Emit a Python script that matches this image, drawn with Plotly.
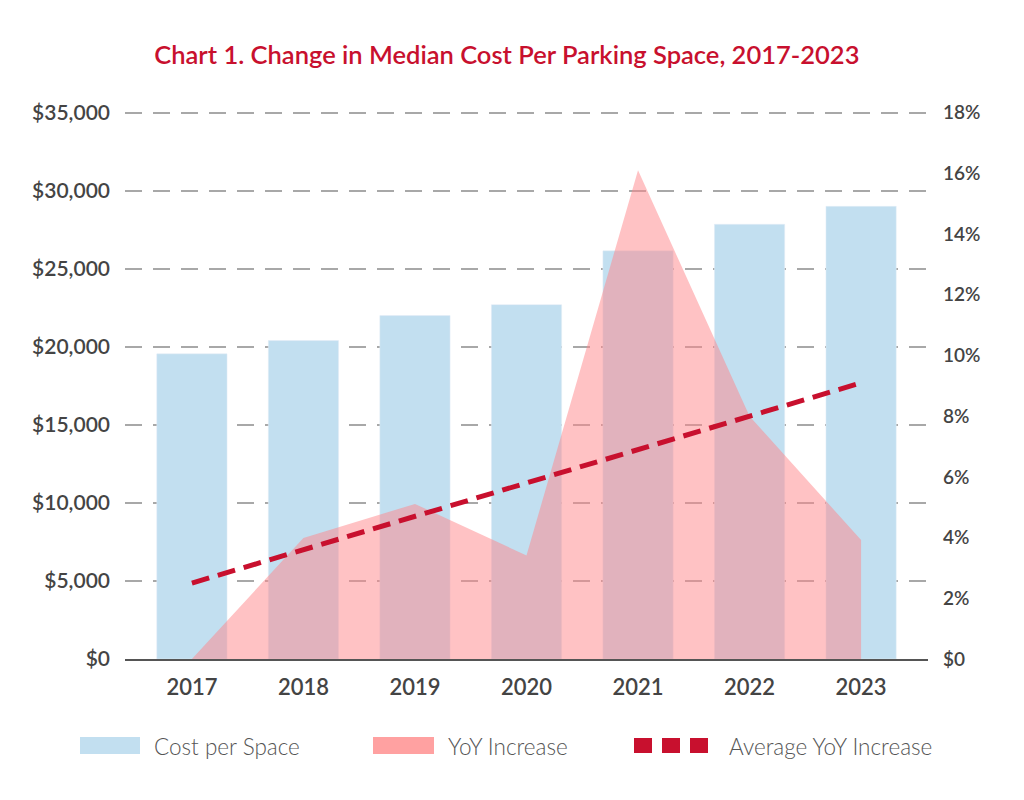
import plotly.graph_objects as go

years = ["2017", "2018", "2019", "2020", "2021", "2022", "2023"]
cost_per_space = [19550, 20400, 22000, 22700, 26150, 27850, 29000]
yoy_increase = [0.0, 3.99, 5.11, 3.41, 16.1, 8.0, 3.92]
avg_yoy_trend = [2.5, 3.6, 4.7, 5.8, 6.9, 8.0, 9.1]

left_ticks = [0, 5000, 10000, 15000, 20000, 25000, 30000, 35000]
left_ticktext = [f"${v:,}" for v in left_ticks]
right_ticks = [0, 2, 4, 6, 8, 10, 12, 14, 16, 18]
right_ticktext = ["$0"] + [f"{v}%" for v in right_ticks[1:]]

BLUE = "#c2dff0"
PINK_FILL = "rgba(255,133,137,0.5)"
PINK_KEY = "#ffa1a1"
RED = "#c8102e"
TEXT = "#444444"
FONT = "Lato, Open Sans, sans-serif"

W, H = 1024, 800
L, R, B = 125, 96, 141
Y0_PIX, YTOP_PIX = 659, 113          # pixel rows of $0 and $35,000
LEFT_MAX = 35300
scale = (Y0_PIX - YTOP_PIX) / 35000  # px per dollar
T = int(round(Y0_PIX - LEFT_MAX * scale))
PW, PH = W - L - R, H - T - B
RIGHT_MAX = 18 * LEFT_MAX / 35000


def px(x):
    return (x - L) / PW


def py(y):
    return (H - B - y) / PH


fig = go.Figure()
fig.add_trace(go.Bar(x=years, y=cost_per_space, marker_color=BLUE, width=0.63,
                     name="Cost per Space", yaxis="y"))
fig.add_trace(go.Scatter(x=years, y=yoy_increase, mode="lines", fill="tozeroy",
                         fillcolor=PINK_FILL, line=dict(width=0, color=PINK_FILL),
                         name="YoY Increase", yaxis="y2"))
fig.add_trace(go.Scatter(x=years, y=avg_yoy_trend, mode="lines",
                         line=dict(color=RED, width=5, dash="18px,9px"),
                         name="Average YoY Increase", yaxis="y2"))

shapes = [
    dict(type="rect", xref="paper", yref="paper", x0=px(80), x1=px(140), y0=py(754), y1=py(737),
         fillcolor=BLUE, line=dict(width=0)),
    dict(type="rect", xref="paper", yref="paper", x0=px(373), x1=px(434), y0=py(754), y1=py(737),
         fillcolor=PINK_KEY, line=dict(width=0)),
]
for a, b in [(634, 652), (662, 680), (690, 708)]:
    shapes.append(dict(type="rect", xref="paper", yref="paper", x0=px(a), x1=px(b),
                       y0=py(753), y1=py(738), fillcolor=RED, line=dict(width=0)))

annotations = []
for x, label in [(152, "Cost per Space"), (446, "YoY Increase"), (727, "Average YoY Increase")]:
    annotations.append(dict(xref="paper", yref="paper", x=px(x), y=py(746), xanchor="left",
                            yanchor="middle", text=label, showarrow=False,
                            font=dict(family=FONT, size=22.5, color="#555555", weight=300)))

fig.update_layout(
    width=W, height=H,
    margin=dict(l=L, r=R, t=T, b=B),
    paper_bgcolor="white", plot_bgcolor="white",
    showlegend=False,
    title=dict(text="Chart 1. Change in Median Cost Per Parking Space, 2017-2023",
               x=0.495, xanchor="center", y=1 - 55 / H, yanchor="middle", yref="container",
               font=dict(family=FONT, size=25.5, color=RED, weight=600)),
    xaxis=dict(type="category", range=[-0.6, 6.6], showline=True, linecolor="#555555",
               linewidth=2, ticks="", showgrid=False, zeroline=False, ticklabelstandoff=8,
               tickfont=dict(family=FONT, size=22, color=TEXT, weight=600)),
    yaxis=dict(range=[0, LEFT_MAX], tickvals=left_ticks, ticktext=left_ticktext,
               showgrid=True, gridcolor="#a8a8a8", gridwidth=2, griddash="17px,11px",
               zeroline=False, showline=False, ticks="", ticklabelstandoff=14,
               tickfont=dict(family=FONT, size=21, color=TEXT, weight=600)),
    yaxis2=dict(range=[0, RIGHT_MAX], overlaying="y", side="right", tickvals=right_ticks,
                ticktext=right_ticktext, showgrid=False, zeroline=False, showline=False,
                ticks="", ticklabelstandoff=14,
                tickfont=dict(family=FONT, size=19, color=TEXT, weight=600)),
    shapes=shapes,
    annotations=annotations,
)

fig.write_html("out.html")
